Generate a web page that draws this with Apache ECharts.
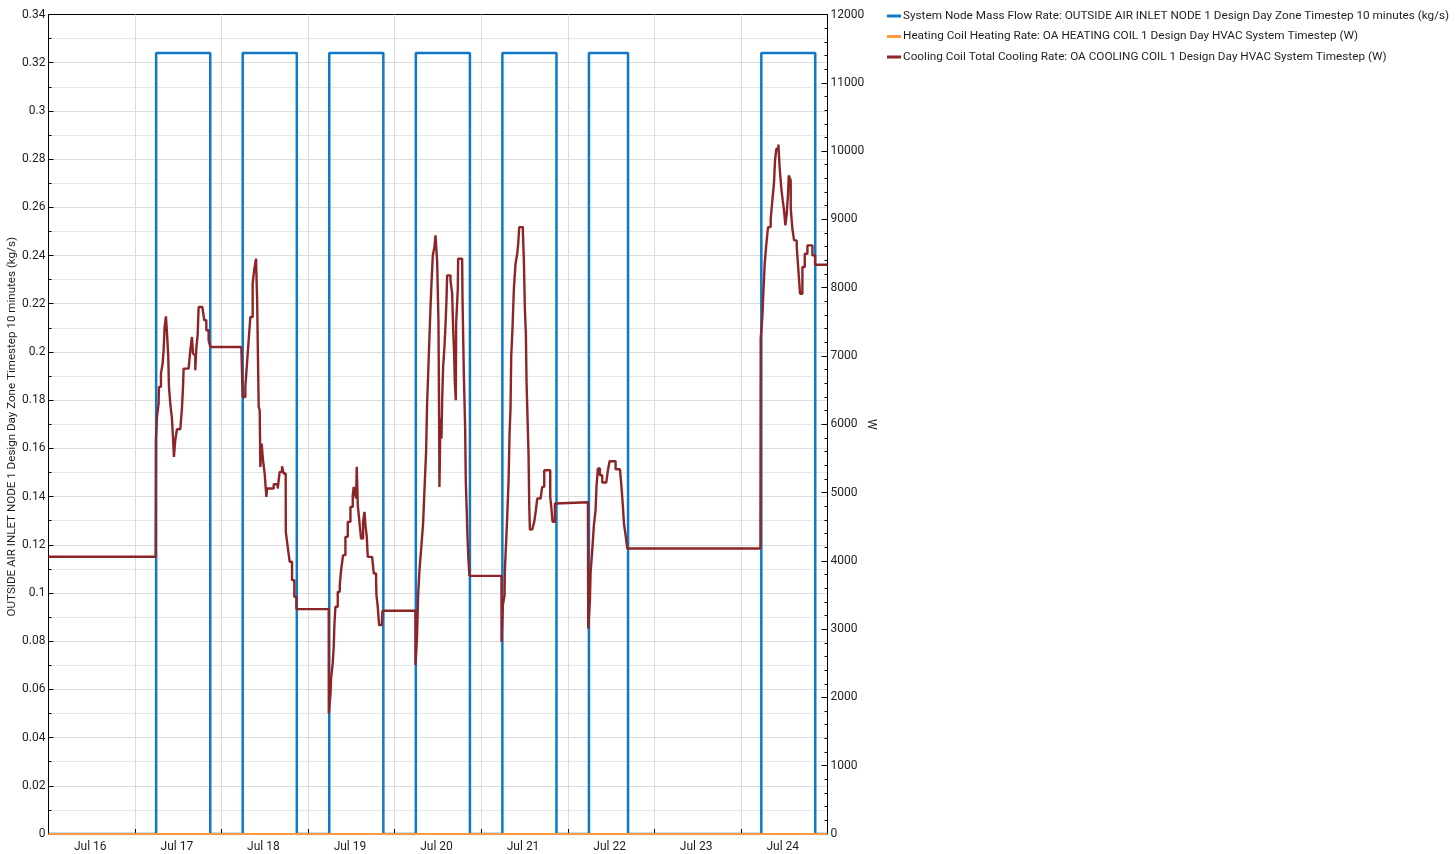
<!DOCTYPE html>
<html>
<head>
<meta charset="utf-8">
<script src="https://cdn.jsdelivr.net/npm/echarts@6/dist/echarts.min.js"></script>
<style>html,body{margin:0;padding:0;background:#fff}</style>
</head>
<body>
<div id="main" style="width:1456px;height:854px;"></div>
<script>
// day labels along the bottom
var days = ['Jul 16','Jul 17','Jul 18','Jul 19','Jul 20','Jul 21','Jul 22','Jul 23','Jul 24'];

var flowName = 'System Node Mass Flow Rate: OUTSIDE AIR INLET NODE 1 Design Day Zone Timestep 10 minutes (kg/s)';
var heatName = 'Heating Coil Heating Rate: OA HEATING COIL 1 Design Day HVAC System Timestep (W)';
var coolName = 'Cooling Coil Total Cooling Rate: OA COOLING COIL 1 Design Day HVAC System Timestep (W)';

// hours since Jul 16 00:00
var flowHours = [0,29.85,29.85,44.85,44.85,53.85,53.85,68.85,68.85,77.85,77.85,92.85,92.85,101.85,101.85,116.85,116.85,125.85,125.85,140.85,140.85,149.85,149.85,160.7,160.7,197.65,197.65,212.6,212.6,216];
var flowRates = [0,0,0.324,0.324,0,0,0.324,0.324,0,0,0.324,0.324,0,0,0.324,0.324,0,0,0.324,0.324,0,0,0.324,0.324,0,0,0.324,0.324,0,0];

var heatHours = [0,216];
var heatWatts = [0,0];

var coolHours = [0,29.7,29.79,30.07,30.53,30.62,31.18,31.64,31.92,32.19,32.56,32.84,33.21,33.4,33.77,34.23,34.51,34.78,35.15,35.62,36.54,37,37.28,37.47,38.85,39.32,39.78,40.06,40.43,40.7,40.98,41.35,41.63,42.65,43.2,43.76,44.4,44.87,
  53.47,53.84,54.58,55.04,55.5,55.97,56.61,57.08,57.54,57.82,57.85,58.09,58.28,58.56,58.74,59.11,59.48,59.94,60.41,60.59,61.7,62.44,63.55,64.1,64.75,65.2,65.77,65.8,66.33,66.88,67.53,68.17,68.73,
  77.7,77.72,78.2,78.35,78.8,79.09,79.27,79.55,80.2,80.76,81.13,81.68,82.33,82.98,83.72,84.36,84.64,84.92,85.29,85.47,85.75,85.76,86.12,86.3,86.67,87.23,87.6,87.88,88.25,88.53,89.73,90.19,90.84,90.93,91.3,91.67,92.41,92.6,
  101.75,101.76,102.2,102.49,102.86,103.41,103.87,104.34,104.7,104.98,105.26,105.63,105.91,106.19,106.56,107.02,107.3,107.76,107.77,108.13,108.31,108.4,108.68,108.96,109.15,109.42,109.79,110.07,110.35,110.53,111.46,111.92,112.2,112.48,112.66,112.94,113.03,113.49,113.59,114.7,114.79,115.16,115.53,115.71,115.99,116.17,116.45,116.73,
  125.6,125.62,125.99,126.45,126.54,126.91,127.19,127.56,127.84,128.11,128.3,128.67,129.04,129.5,129.96,130.24,130.52,130.98,131.54,131.81,132.09,132.37,132.55,132.92,133.11,133.29,133.48,134.13,134.68,135.14,135.51,136.44,136.9,137.46,138.47,139.12,139.49,139.77,140.41,140.88,
  149.57,149.66,150.12,150.3,150.77,151.23,151.69,151.97,152.34,152.9,153.54,154.65,155.12,155.58,156.6,157.24,158.45,158.91,159.28,159.56,160.02,160.48,
  197.4,197.48,197.94,198.2,198.59,199.05,199.51,200.25,200.71,201.18,201.45,201.82,202.38,202.75,203.21,203.58,203.95,204.32,204.69,205.06,205.25,205.8,205.81,206.26,206.73,207.47,207.93,208.39,209.04,209.69,210.43,211.17,211.82,212.55,216];
var coolWatts = [4060,4060,5776,6108,6303,6547,6742,6888,7083,7415,7581,7352,6986,6547,6303,6083,5815,5522,5766,5927,5927,6230,6522,6815,6815,7083,7278,7034,7010,6791,7108,7303,7717,7717,7522,7376,7230,7132,
  7132,6400,6547,6888,7230,7571,8059,8278,8425,8425,7815,6937,6254,6205,5376,5717,5473,5278,4937,5059,5059,5122,5059,5303,5386,5278,5083,4425,4205,3986,3717,3473,3293,
  3293,1766,2059,2278,2498,2742,3058,3327,3546,3644,3863,4083,4351,4571,4790,4961,5083,4985,4912,5376,5376,4815,4790,4522,4327,4571,4717,4522,4351,4058,4049,3815,3693,3498,3327,3058,3083,3268,
  3268,2473,2912,3497,3863,4229,4546,5156,5595,6302,6717,7278,7692,8058,8473,8595,8766,8766,8375,7497,6083,5083,6083,5790,6351,6839,7131,7449,7814,8180,8107,7912,7400,7034,6619,6351,7473,7985,8424,8424,7863,6741,5936,5156,4692,4351,4010,3780,
  3780,2814,3351,3497,3863,4302,4644,5156,5863,6229,6985,7424,7985,8351,8497,8644,8887,8887,8814,8400,7692,7326,6619,5912,5546,4839,4458,4487,4570,4741,4912,4926,5083,5326,5326,4936,4741,4570,4839,4858,
  4858,3010,3424,3815,4156,4522,4741,5107,5351,5254,5146,5146,5327,5459,5459,5341,5317,5059,4790,4546,4375,4180,
  4180,7253,7570,7912,8351,8643,8887,9009,9278,9546,9863,10034,10097,9741,9448,9278,9131,8912,9082,9375,9643,9570,9156,8863,8692,8595,8253,7912,8302,8497,8619,8619,8473,8336,8336];

function pairs(xs, ys) {
  return xs.map(function (x, i) { return [x, ys[i]]; });
}

var fontName = 'Roboto, sans-serif';
var textColor = '#1e1e1e';

var myChart = echarts.init(document.getElementById('main'));

var option = {
  animation: false,
  textStyle: { fontFamily: fontName, color: textColor },
  grid: { left: 48.5, right: 628.5, top: 14.5, bottom: 20, show: true, borderColor: '#000', borderWidth: 1, backgroundColor: 'transparent', outerBoundsMode: 'none' },
  legend: {
    orient: 'vertical', left: 887, top: 10, padding: 0,
    icon: 'rect', itemWidth: 14, itemHeight: 3, itemGap: 8.5,
    textStyle: { fontFamily: fontName, fontSize: 11.75, color: textColor, padding: [0, 0, 0, -3] },
    data: [flowName, heatName, coolName]
  },
  xAxis: [
    {
      type: 'category', data: days, boundaryGap: true,
      axisLine: { onZero: false, lineStyle: { color: '#000', width: 1 } },
      axisTick: { show: true, inside: true, length: 5, interval: 0, lineStyle: { color: '#000' } },
      axisLabel: { interval: 0, fontSize: 12, color: textColor, margin: 7, padding: [0, 3, 0, 0] },
      splitLine: { show: true, interval: 0, showMinLine: false, showMaxLine: false, lineStyle: { color: '#dcdcdc', width: 1 } }
    },
    { type: 'value', min: 0, max: 216, show: false }
  ],
  yAxis: [
    {
      type: 'value', min: 0, max: 0.34, interval: 0.02,
      name: 'OUTSIDE AIR INLET NODE 1 Design Day Zone Timestep 10 minutes (kg/s)',
      nameLocation: 'middle', nameGap: 30, nameRotate: 90, nameMoveOverlap: false,
      nameTextStyle: { fontSize: 11.6, color: textColor, padding: [0, 5, 0, 0] },
      axisLine: { show: true, onZero: false, lineStyle: { color: '#000' } },
      axisTick: { show: true, inside: true, length: 5, lineStyle: { color: '#000' } },
      minorTick: { show: true, splitNumber: 2, length: 3, lineStyle: { color: '#000' } },
      axisLabel: { fontSize: 12, color: textColor, margin: 3 },
      splitLine: { show: true, showMinLine: false, showMaxLine: false, lineStyle: { color: '#dcdcdc', width: 1 } },
      minorSplitLine: { show: true, lineStyle: { color: '#cfcfcf', width: 1, type: 'dotted' } }
    },
    {
      type: 'value', min: 0, max: 12000, interval: 1000, position: 'right',
      name: 'W', nameLocation: 'middle', nameGap: 37, nameRotate: -90, nameMoveOverlap: false,
      nameTextStyle: { fontSize: 12, color: textColor },
      axisLine: { show: true, onZero: false, lineStyle: { color: '#000' } },
      axisTick: { show: true, inside: true, length: 6, lineStyle: { color: '#000' } },
      minorTick: { show: true, splitNumber: 5, length: 3, lineStyle: { color: '#000' } },
      axisLabel: { fontSize: 12, color: textColor, margin: 3, formatter: function (v) { return String(v); } },
      splitLine: { show: false }
    }
  ],
  series: [
    {
      name: flowName, type: 'line', xAxisIndex: 1, yAxisIndex: 0, showSymbol: false,
      data: pairs(flowHours, flowRates),
      itemStyle: { color: '#0f78c8' }, lineStyle: { color: '#0f78c8', width: 2.5 }
    },
    {
      name: heatName, type: 'line', xAxisIndex: 1, yAxisIndex: 1, showSymbol: false,
      data: pairs(heatHours, heatWatts),
      itemStyle: { color: '#ff9a3c' }, lineStyle: { color: '#ff9a3c', width: 2 }
    },
    {
      name: coolName, type: 'line', xAxisIndex: 1, yAxisIndex: 1, showSymbol: false, step: 'end',
      data: pairs(coolHours, coolWatts),
      itemStyle: { color: '#8c2428' }, lineStyle: { color: '#8c2428', width: 2.4 }
    }
  ]
};

myChart.setOption(option);
</script>
</body>
</html>
